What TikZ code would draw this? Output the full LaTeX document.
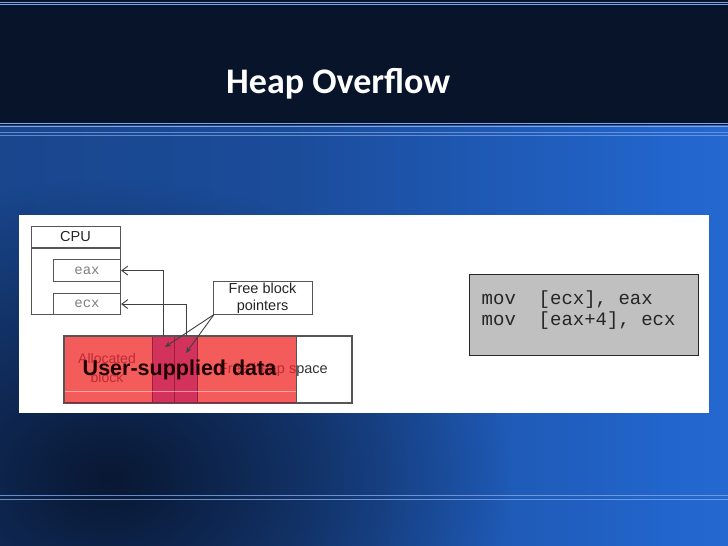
\documentclass[tikz,border=0pt]{standalone}
\usepackage{fontspec}
\setmainfont{Liberation Sans}
\newfontfamily\titlefont{Carlito}
\newfontfamily\codefont{Liberation Mono}
\usetikzlibrary{arrows.meta,fadings}
\definecolor{bandnavy}{HTML}{08142A}
\definecolor{darkspot}{HTML}{060F22}
\definecolor{bgA}{HTML}{173E7C}
\definecolor{bgB}{HTML}{1B4C9A}
\definecolor{bgC}{HTML}{2266CE}
\definecolor{bgC2}{HTML}{3272D4}
\definecolor{bgD}{HTML}{4C86DA}
\definecolor{bandline}{HTML}{7FA6E6}
\definecolor{heapred}{HTML}{F45C5C}
\definecolor{ptrred}{HTML}{D2325C}
\definecolor{ptrline}{HTML}{9C1E3E}
\definecolor{textred}{HTML}{BE2A34}
\definecolor{edgegray}{HTML}{555555}
\definecolor{codegray}{HTML}{C0C0C0}
\pgfdeclarehorizontalshading{bgshade}{100bp}{color(0bp)=(bgA); color(45bp)=(bgB); color(72bp)=(bgC); color(88bp)=(bgC2); color(100bp)=(bgD)}
\tikzfading[name=spotfade, inner color=transparent!0, outer color=transparent!100]
\tikzset{
  box/.style={draw=edgegray, line width=1.1pt, inner sep=0pt},
  conn/.style={draw=black!75, line width=0.9pt},
  barb/.style={-{Straight Barb[length=6pt,width=9pt,line width=0.9pt]}},
  stealthtip/.style={-{Stealth[length=6pt,width=5pt]}},
  label/.style={inner sep=0pt, font=\fontsize{14.5}{17}\selectfont, text=black!85},
  cell/.style={draw=ptrline, line width=0.8pt, inner sep=0pt, anchor=north west, minimum height=66pt},
  hline/.style={draw=bandline, line width=1pt}
}
\begin{document}
\begin{tikzpicture}[x=1pt,y=-1pt]
\useasboundingbox (0,0) rectangle (728,546);
% background
\shade[shading=bgshade] (0,0) rectangle (728,546);
\fill[darkspot, path fading=spotfade, opacity=0.85] (110,480) ellipse [x radius=400, y radius=300];
\fill[bandnavy] (0,0) rectangle (728,125);
\draw[hline, line width=0.7pt] (0,2.7) -- (728,2.7);
\draw[hline, line width=0.7pt] (0,4.8) -- (728,4.8);
\draw[hline] (0,123) -- (728,123);
\draw[hline] (0,126) -- (728,126);
\draw[hline, opacity=0.7] (0,132) -- (728,132);
\draw[hline, opacity=0.7] (0,135) -- (728,135);
\draw[hline, opacity=0.8] (0,495) -- (728,495);
\draw[hline, opacity=0.8] (0,499) -- (728,499);
% title
\node[anchor=base west, inner sep=0pt, text=white, font=\titlefont\bfseries\fontsize{36}{42}\selectfont] (title) at (226,93) {Heap Overflow};
% white panel
\fill[white] (19,215) rectangle (709,413);
% CPU
\node[box, anchor=north west, minimum width=89pt, minimum height=88pt] (cpu) at (31,226) {};
\draw[edgegray, line width=1.1pt] (31,248) -- (120,248);
\node[label] (cputitle) at (75.5,237) {CPU};
\node[box, anchor=north west, minimum width=67pt, minimum height=22pt, font=\codefont\fontsize{14}{16}\selectfont, text=black!50] (eax) at (53,259) {eax};
\node[box, anchor=north west, minimum width=67pt, minimum height=21pt, font=\codefont\fontsize{14}{16}\selectfont, text=black!50] (ecx) at (53,293) {ecx};
% free block pointers
\node[box, anchor=north west, minimum width=99pt, minimum height=33pt, align=center, font=\fontsize{14.5}{17}\selectfont, text=black!85] (fbp) at (212.5,281) {Free block\\pointers};
% heap
\node[cell, fill=heapred, minimum width=88pt] (alloc) at (64,336) {};
\node[cell, fill=ptrred, minimum width=22.3pt] (ptrA) at (152,336) {};
\node[cell, fill=ptrred, minimum width=22.7pt] (ptrB) at (174.3,336) {};
\node[cell, fill=heapred, minimum width=99pt] (freeblk) at (197,336) {};
\node[box, anchor=north west, minimum width=55pt, minimum height=66pt] (rest) at (296,336) {};
\draw[box] (alloc.north west) rectangle (rest.south east);
\draw[white, opacity=0.45, line width=0.8pt] (64.6,391.7) -- (295.5,391.7);
% texts on heap
\node[inner sep=0pt, align=center, text=textred, font=\fontsize{14}{19}\selectfont] (alloctext) at (107,368) {Allocated\\block};
\begin{scope}
  \clip (64,336) rectangle (296,402);
  \node[anchor=east, inner sep=0pt, text=textred, font=\fontsize{14.5}{17}\selectfont] (freetextA) at (328,370) {Free heap space};
\end{scope}
\begin{scope}
  \clip (296,336) rectangle (351,402);
  \node[anchor=east, inner sep=0pt, text=black!80, font=\fontsize{14.5}{17}\selectfont] (freetextB) at (328,370) {Free heap space};
\end{scope}
\node[inner sep=0pt, text=black!88!red, font=\bfseries\fontsize{21.5}{24}\selectfont] (user) at (179.5,370) {User-supplied data};
% connectors
\draw[conn, barb] (ptrA.north) |- (eax.east);
\draw[conn, barb] (ptrB.north) |- (ecx.east);
\coordinate (fbpfoot) at (214,314.5);
\coordinate (tipA) at (165,347);
\coordinate (tipB) at (186,353);
\draw[conn, stealthtip] (fbpfoot) -- (tipA);
\draw[conn, stealthtip] (fbpfoot) -- (tipB);
% code box
\node[draw=black!85, line width=1pt, fill=codegray, anchor=north west, minimum width=229pt, minimum height=81pt, inner sep=0pt] (code) at (469,274) {};
\node[anchor=west, inner sep=0pt, align=left, text=black!85, font=\codefont\fontsize{19}{21}\selectfont] (codetext) at (481.5,310) {mov\ \ [ecx], eax\\mov\ \ [eax+4], ecx};
\end{tikzpicture}
\end{document}
